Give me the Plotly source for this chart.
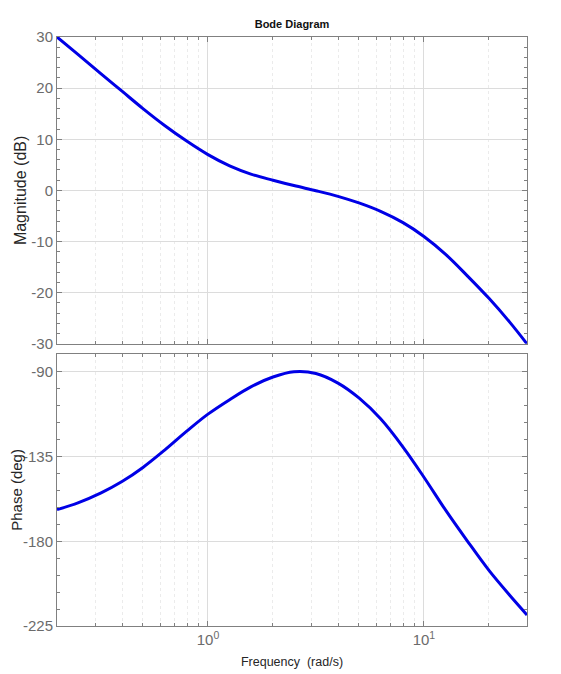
import numpy as np
import plotly.graph_objects as go

freq = [0.2, 0.25, 0.32, 0.4, 0.5, 0.63, 0.8, 1.0, 1.26, 1.58, 2.0, 2.5, 3.16, 4.0,
        5.0, 6.3, 8.0, 10.0, 12.6, 15.8, 20.0, 25.0, 30.0]
# Magnitude (dB)
mag_db = [30.0, 26.6, 22.8, 19.4, 16.0, 12.7, 9.6, 7.0, 4.8, 3.2, 2.0, 0.95, -0.05, -1.15,
          -2.45, -4.1, -6.3, -9.0, -12.5, -16.6, -21.1, -25.8, -30.0]
# Phase (deg)
phase_deg = [-163.2, -159.6, -154.3, -148.3, -140.8, -131.6, -121.4, -112.5, -104.8,
             -98.0, -92.8, -90.0, -90.9, -96.0, -103.9, -115.0, -130.0, -146.0, -163.5,
             -179.5, -195.5, -208.8, -219.1]

x_major = [1, 10]
x_major_text = ["10<sup>0</sup>", "10<sup>1</sup>"]
x_minor = [0.2, 0.3, 0.4, 0.5, 0.6, 0.7, 0.8, 0.9, 2, 3, 4, 5, 6, 7, 8, 9, 20, 30]
mag_ticks = [-30, -20, -10, 0, 10, 20, 30]
mag_labels = ["-30", "-20", "-10", "0", "10", "20", "30"]
phase_ticks = [-225, -180, -135, -90]
phase_labels = ["-225", "-180", "-135", "-90"]

FONT = "Liberation Sans, Arial, sans-serif"
LINE = "#0000e6"
AXIS = "#808080"
TICKTXT = "#6b6b6b"

fig = go.Figure()
fig.add_trace(go.Scatter(x=freq, y=mag_db, mode="lines", line_shape="spline",
                         line=dict(color=LINE, width=3), xaxis="x", yaxis="y",
                         showlegend=False, name="Magnitude"))
fig.add_trace(go.Scatter(x=freq, y=phase_deg, mode="lines", line_shape="spline",
                         line=dict(color=LINE, width=3), xaxis="x2", yaxis="y2",
                         showlegend=False, name="Phase"))

xcommon = dict(
    type="log", range=[np.log10(0.2), np.log10(30)], automargin=False,
    tickmode="array", tickvals=x_major, ticktext=x_major_text,
    showline=True, linecolor=AXIS, linewidth=1, mirror="allticks",
    ticks="inside", ticklen=5, tickcolor=AXIS,
    showgrid=True, gridcolor="#dcdcdc", gridwidth=1, zeroline=False,
    minor=dict(tickmode="array", tickvals=x_minor, ticks="inside", ticklen=3,
               tickcolor=AXIS, showgrid=True, gridcolor="#ebebeb", griddash="dot"),
    tickfont=dict(family=FONT, size=15, color=TICKTXT),
)
ycommon = dict(
    showline=True, linecolor=AXIS, linewidth=1, mirror="allticks", automargin=False,
    ticks="inside", ticklen=5, tickcolor=AXIS,
    showgrid=True, gridcolor="#dcdcdc", zeroline=False,
    tickfont=dict(family=FONT, size=15, color=TICKTXT),
)

# the page adds an 8px body margin, so the figure is a little smaller than the window
fig.update_layout(
    width=553, height=666,
    margin=dict(l=49, r=34, t=29, b=48),
    paper_bgcolor="white", plot_bgcolor="white",
    title=dict(text="<b>Bode Diagram</b>", x=0.5, xref="paper", y=0.976, yanchor="middle",
               font=dict(family=FONT, size=11, color="#111111")),
    xaxis=dict(xcommon, domain=[0, 1], anchor="y", showticklabels=False, matches="x2"),
    xaxis2=dict(xcommon, domain=[0, 1], anchor="y2",
                title=dict(text="Frequency  (rad/s)", standoff=10,
                           font=dict(family=FONT, size=12.5, color="#262626"))),
    yaxis=dict(ycommon, domain=[0.479, 1.0], range=[-30, 30], tickmode="array",
               tickvals=mag_ticks, ticktext=mag_labels,
               minor=dict(dtick=2, tick0=-30, ticks="inside", ticklen=3, tickcolor=AXIS,
                          showgrid=False),
               title=dict(text="Magnitude (dB)", standoff=0,
                          font=dict(family=FONT, size=16, color="#262626"))),
    yaxis2=dict(ycommon, domain=[0.0, 0.462], range=[-225, -80.5], tickmode="array",
                tickvals=phase_ticks, ticktext=phase_labels,
                minor=dict(dtick=9, tick0=-225, ticks="inside", ticklen=3, tickcolor=AXIS,
                           showgrid=False),
                title=dict(text="Phase (deg)", standoff=5,
                           font=dict(family=FONT, size=15, color="#262626"))),
)

fig.write_html("out.html")
